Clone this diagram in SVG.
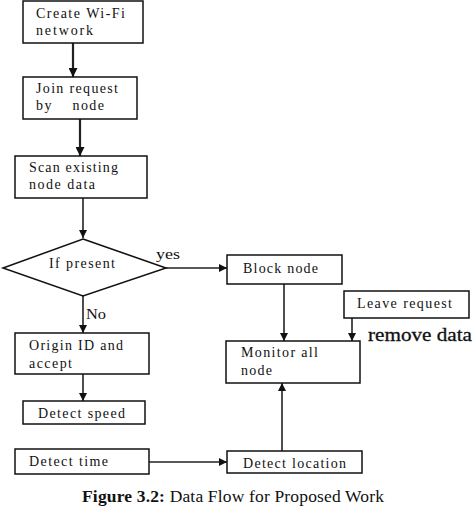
<svg xmlns="http://www.w3.org/2000/svg" width="474" height="506" viewBox="0 0 474 506">
<style>
.box{fill:#fff;stroke:#111;stroke-width:1.5}
.t{font-family:"Liberation Serif","Times New Roman",serif;font-size:14px;fill:#111}
.ln{stroke:#222;stroke-width:1.6;fill:none}
.thick{stroke-width:2.2}
.cap{font-family:"Liberation Serif","Times New Roman",serif;font-size:17.5px;fill:#111}
</style>
<defs>
<marker id="ah" viewBox="0 0 10 10" refX="10" refY="5" markerWidth="8" markerHeight="8" markerUnits="userSpaceOnUse" orient="auto">
<path d="M0,0 L10,5 L0,10 z" fill="#111"/>
</marker>
<marker id="ahs" viewBox="0 0 10 10" refX="10" refY="5" markerWidth="9" markerHeight="9" markerUnits="userSpaceOnUse" orient="auto">
<path d="M0,0 L10,5 L0,10 z" fill="#111"/>
</marker>
</defs>
<rect x="0" y="0" width="474" height="506" fill="#fff"/>
<g id="connectors">
<line class="ln thick" x1="73" y1="43" x2="73" y2="77" marker-end="url(#ahs)"/>
<line class="ln thick" x1="80" y1="119" x2="80" y2="156" marker-end="url(#ahs)"/>
<line class="ln" x1="83" y1="198" x2="83" y2="238" stroke="#555" marker-end="url(#ah)"/>
<line class="ln" x1="166" y1="268" x2="227" y2="268" marker-end="url(#ah)"/>
<line class="ln" x1="83" y1="296" x2="83" y2="333" stroke="#555" marker-end="url(#ah)"/>
<line class="ln" x1="83" y1="374" x2="83" y2="401" marker-end="url(#ah)"/>
<line class="ln" x1="284" y1="284" x2="284" y2="341" marker-end="url(#ah)"/>
<line class="ln" x1="352" y1="318" x2="352" y2="341" marker-end="url(#ah)"/>
<line class="ln" x1="282" y1="451" x2="282" y2="383" marker-end="url(#ah)"/>
<line class="ln" x1="149" y1="462" x2="227" y2="462" marker-end="url(#ah)"/>
<text class="t" x="156" y="259" textLength="24" lengthAdjust="spacingAndGlyphs">yes</text>
<text class="t" x="86" y="319" textLength="20" lengthAdjust="spacingAndGlyphs">No</text>
<text x="368" y="341" font-family="Liberation Serif,Times New Roman,serif" font-size="19" fill="#111" stroke="#111" stroke-width="0.3" textLength="104" lengthAdjust="spacingAndGlyphs">remove data</text>
</g>
<g id="create">
<rect class="box" x="23" y="1" width="120" height="42"/>
<text class="t" x="36" y="18" textLength="89" lengthAdjust="spacing">Create Wi-Fi</text>
<text class="t" x="36" y="35" textLength="57" lengthAdjust="spacing">network</text>
</g>
<g id="join">
<rect class="box" x="23" y="77" width="114" height="42"/>
<text class="t" x="36" y="93" textLength="82" lengthAdjust="spacing">Join request</text>
<text class="t" x="36" y="110" textLength="68" lengthAdjust="spacing" xml:space="preserve">by    node</text>
</g>
<g id="scan">
<rect class="box" x="15" y="156" width="132" height="42"/>
<text class="t" x="29" y="172" textLength="89" lengthAdjust="spacing">Scan existing</text>
<text class="t" x="29" y="189" textLength="66" lengthAdjust="spacing">node data</text>
</g>
<g id="decision">
<polygon class="box" points="83,239 166,268 83,296 3,268"/>
<text class="t" x="49" y="268" textLength="66" lengthAdjust="spacing">If present</text>
</g>
<g id="block">
<rect class="box" x="227" y="255" width="115" height="29"/>
<text class="t" x="243" y="273" textLength="75" lengthAdjust="spacing">Block node</text>
</g>
<g id="leave">
<rect class="box" x="344" y="291" width="125" height="27"/>
<text class="t" x="357" y="308" textLength="95" lengthAdjust="spacing">Leave request</text>
</g>
<g id="origin">
<rect class="box" x="15" y="333" width="134" height="41"/>
<text class="t" x="29" y="350" textLength="94" lengthAdjust="spacing">Origin ID and</text>
<text class="t" x="29" y="368" textLength="43" lengthAdjust="spacing">accept</text>
</g>
<g id="monitor">
<rect class="box" x="226" y="341" width="134" height="42"/>
<text class="t" x="241" y="357" textLength="77" lengthAdjust="spacing">Monitor all</text>
<text class="t" x="241" y="375" textLength="31" lengthAdjust="spacing">node</text>
</g>
<g id="speed">
<rect class="box" x="23" y="401" width="122" height="23"/>
<text class="t" x="38" y="418" textLength="87" lengthAdjust="spacing">Detect speed</text>
</g>
<g id="time">
<rect class="box" x="15" y="449" width="134" height="25"/>
<text class="t" x="29" y="466" textLength="79" lengthAdjust="spacing">Detect time</text>
</g>
<g id="location">
<rect class="box" x="227" y="451" width="135" height="22"/>
<text class="t" x="243" y="468" textLength="103" lengthAdjust="spacing">Detect location</text>
</g>
<text class="cap" x="82" y="502" textLength="302" lengthAdjust="spacing"><tspan font-weight="bold">Figure 3.2:</tspan> Data Flow for Proposed Work</text>
</svg>
